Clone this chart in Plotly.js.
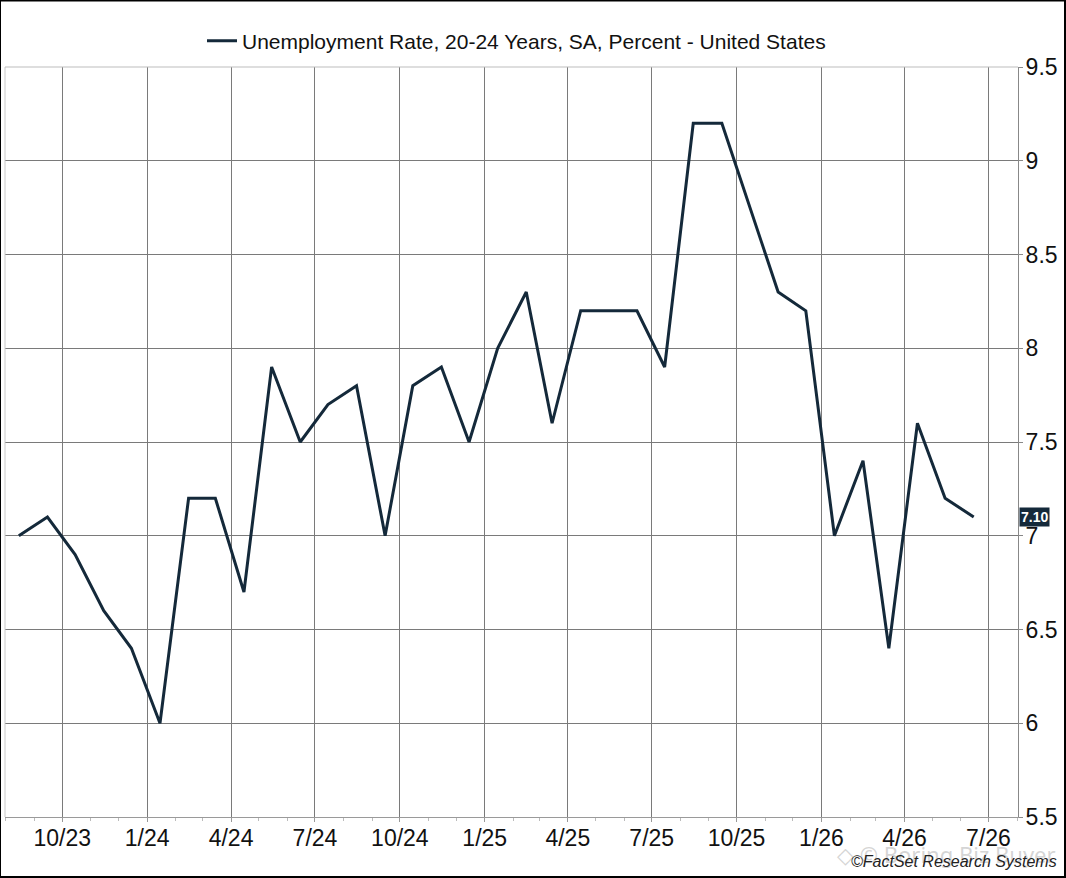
<!DOCTYPE html>
<html>
<head>
<meta charset="utf-8">
<script src="https://cdn.plot.ly/plotly-3.0.1.min.js"></script>
<style>
html,body{margin:0;padding:0;background:#fff;}
#chart{width:1066px;height:878px;}
</style>
</head>
<body>
<div id="chart"></div>
<script>
// Monthly observations (plotted mid-month); Oct 2025 not published
const months = ['2023-08-15','2023-09-15','2023-10-15','2023-11-15','2023-12-15',
  '2024-01-15','2024-02-15','2024-03-15','2024-04-15','2024-05-15','2024-06-15',
  '2024-07-15','2024-08-15','2024-09-15','2024-10-15','2024-11-15','2024-12-15',
  '2025-01-15','2025-02-15','2025-03-15','2025-04-15','2025-05-15','2025-06-15',
  '2025-07-15','2025-08-15','2025-09-15','2025-11-15','2025-12-15',
  '2026-01-15','2026-02-15','2026-03-15','2026-04-15','2026-05-15','2026-06-15'];
const rates = [7.0,7.1,6.9,6.6,6.4,
  6.0,7.2,7.2,6.7,7.9,7.5,
  7.7,7.8,7.0,7.8,7.9,7.5,
  8.0,8.3,7.6,8.2,8.2,8.2,
  7.9,9.2,9.2,8.3,8.2,
  7.0,7.4,6.4,7.6,7.2,7.1];
const seriesName = 'Unemployment Rate, 20-24 Years, SA, Percent - United States';
const xTickVals = ['2023-10-01','2024-01-01','2024-04-01','2024-07-01','2024-10-01',
  '2025-01-01','2025-04-01','2025-07-01','2025-10-01','2026-01-01','2026-04-01','2026-07-01'];
const xTickText = ['10/23','1/24','4/24','7/24','10/24','1/25','4/25','7/25','10/25','1/26','4/26','7/26'];
const yTickVals = [5.5,6,6.5,7,7.5,8,8.5,9,9.5];
const yTickText = ['5.5','6','6.5','7','7.5','8','8.5','9','9.5'];
const lastValue = rates[rates.length-1];

const lineColor = '#14293a';
const font = 'Liberation Sans, Arial, sans-serif';

const trace = {
  x: months, y: rates, type: 'scatter', mode: 'lines',
  name: seriesName,
  line: {color: lineColor, width: 3},
  hoverinfo: 'skip'
};

const layout = {
  width: 1066, height: 878,
  margin: {l: 5, r: 48, t: 67, b: 61},
  paper_bgcolor: '#fff', plot_bgcolor: '#fff',
  font: {family: font, color: '#111', size: 22},
  showlegend: true,
  legend: {orientation: 'h', x: 0.5 + 5/1013, xanchor: 'center', y: 1 + 26/750, yanchor: 'middle',
    font: {family: font, size: 21, color: '#111'}, bgcolor: 'rgba(0,0,0,0)'},
  xaxis: {
    type: 'date', range: ['2023-07-31','2026-08-02'],
    tickvals: xTickVals, ticktext: xTickText,
    showgrid: true, gridcolor: '#7a7a7a', gridwidth: 1,
    ticks: 'outside', ticklen: 4, tickcolor: '#999',
    ticklabelstandoff: -4,
    showline: true, linecolor: '#9a9a9a', linewidth: 1,
    zeroline: false, tickfont: {family: font, size: 23, color: '#111'},
    minor: {dtick: 'M1', tick0: '2023-08-01', ticks: 'outside', ticklen: 3, tickcolor: '#bbb', showgrid: false}
  },
  yaxis: {
    side: 'right', range: [5.5, 9.5],
    tickvals: yTickVals, ticktext: yTickText,
    showgrid: true, gridcolor: '#7a7a7a', gridwidth: 1,
    ticks: 'outside', ticklen: 4, tickcolor: '#888',
    ticklabelstandoff: -2,
    showline: true, linecolor: '#888', linewidth: 1, mirror: false,
    zeroline: false, tickfont: {family: font, size: 23, color: '#111'}
  },
  shapes: [
    {type: 'line', xref: 'paper', yref: 'paper', x0: 0, x1: 0, y0: 0, y1: 1, line: {color: '#c8c8c8', width: 1}},
    {type: 'line', xref: 'paper', yref: 'paper', x0: 0, x1: 1, y0: 1, y1: 1, line: {color: '#bdbdbd', width: 1}},
    {type: 'rect', xref: 'paper', yref: 'paper', x0: -5/1013, x1: 1 + 47/1013, y0: -60/750, y1: 1 + 66.5/750,
      line: {color: '#000', width: 2}, layer: 'above'}
  ],
  annotations: [
    {xref: 'paper', yref: 'y', x: 1.001, y: lastValue, xanchor: 'left', yanchor: 'middle',
      text: '<b>' + lastValue.toFixed(2) + '</b>', showarrow: false, bgcolor: '#14293a', borderpad: 1,
      font: {family: font, size: 14, color: '#fff'}},
    {xref: 'paper', yref: 'paper', x: 1 + 40/1013, y: -37/750, xanchor: 'right', yanchor: 'middle',
      text: '◇ © Boring Biz Buyer', showarrow: false,
      font: {family: 'Noto Sans, sans-serif', size: 22, color: 'rgba(185,185,185,0.6)'}},
    {xref: 'paper', yref: 'paper', x: 1 + 41/1013, y: -44/750, xanchor: 'right', yanchor: 'middle',
      text: '<i>©FactSet Research Systems</i>', showarrow: false,
      font: {family: font, size: 16, color: '#222'}}
  ]
};

Plotly.newPlot('chart', [trace], layout, {staticPlot: true, displayModeBar: false});
</script>
</body>
</html>
